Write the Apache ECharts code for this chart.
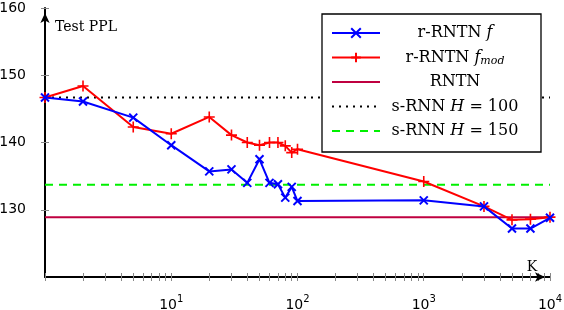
<!DOCTYPE html>
<html><head><meta charset="utf-8">
<script src="https://cdn.jsdelivr.net/npm/echarts@6/dist/echarts.min.js"></script>
<style>html,body{margin:0;padding:0;background:#fff}#c{width:564px;height:310px}</style>
</head><body><div id="c"></div>
<script>
// ---- data ----
const K = [1, 2, 5, 10, 20, 30, 40, 50, 60, 70, 80, 90, 100, 1000, 3000, 5000, 7000, 10000];
const rrntnF    = [146.7, 146.1, 143.7, 139.6, 135.7, 136.0, 134.0, 137.5, 134.0, 133.8, 131.8, 133.4, 131.3, 131.4, 130.5, 127.2, 127.2, 128.8];
const rrntnFmod = [146.7, 148.4, 142.3, 141.3, 143.8, 141.1, 140.0, 139.6, 140.0, 140.0, 139.5, 138.5, 139.0, 134.2, 130.5, 128.5, 128.6, 128.9];
const lineSpan = [1, 10000];
const rntnLevel = 128.9;
const srnn100Level = 146.7;
const srnn150Level = 133.7;
const seriesNames = ['r-RNTN f', 'r-RNTN fmod', 'RNTN', 's-RNN H = 100', 's-RNN H = 150'];
const legendLabels = {
  'r-RNTN f': '{t|r-RNTN }{i|f}',
  'r-RNTN fmod': '{t|r-RNTN }{i|f}{sub|mod}',
  'RNTN': '{t|RNTN}',
  's-RNN H = 100': '{t|s-RNN }{i|H}{t| = 100}',
  's-RNN H = 150': '{t|s-RNN }{i|H}{t| = 150}'
};
const yTicks = [130, 140, 150, 160];
const xTickValues = [1,2,3,4,5,6,7,8,9,10,20,30,40,50,60,70,80,90,100,200,300,400,500,600,700,800,900,1000,2000,3000,4000,5000,6000,7000,8000,9000,10000];
const xLabelValues = [10, 100, 1000, 10000];
const xLabelExps = ['1', '2', '3', '4'];

// ---- chart ----
const chart = echarts.init(document.getElementById('c'), null, {renderer: 'canvas'});
const serif = 'DejaVu Serif';
const sans = 'DejaVu Sans';
const pair = (xs, ys) => xs.map((x, i) => [x, ys[i]]);
const flat = (lvl) => lineSpan.map(x => [x, lvl]);
const arrowLine = {lineStyle: {color: '#000', width: 2}, symbol: ['none', 'arrow'], symbolSize: [7, 10], symbolOffset: [0, -5]};
const plainIcon = new Set(['RNTN', 's-RNN H = 100', 's-RNN H = 150']);
const hiddenSym = {color: 'rgba(0,0,0,0)', borderColor: 'rgba(0,0,0,0)', borderWidth: 0, opacity: 0};

chart.setOption({
  animation: false,
  backgroundColor: '#fff',
  grid: {left: 45, right: 14, top: 8, bottom: 33, containLabel: false, outerBoundsMode: 'none'},
  xAxis: [{
    type: 'log', logBase: 10, min: 1, max: 10000,
    axisLine: arrowLine,
    axisTick: {customValues: xTickValues, length: 4, lineStyle: {color: '#888', width: 1}},
    minorTick: {show: false},
    splitLine: {show: false},
    axisLabel: {
      customValues: xLabelValues, margin: 17,
      formatter: (v) => { const i = xLabelValues.indexOf(v); return '{b|10}{s|' + (i >= 0 ? xLabelExps[i] : '') + '}'; },
      rich: {
        b: {fontFamily: sans, fontSize: 14, lineHeight: 18, verticalAlign: 'bottom', color: '#000'},
        s: {fontFamily: sans, fontSize: 10, lineHeight: 4, verticalAlign: 'top', color: '#000'}
      }
    },
    name: 'K', nameLocation: 'end', nameGap: -18,
    nameTextStyle: {fontFamily: serif, fontSize: 14, color: '#000', align: 'center', verticalAlign: 'bottom', padding: [0, 0, 3, 0]}
  }, {
    type: 'log', logBase: 10, min: 1, max: 10000, position: 'bottom',
    axisLine: {show: false},
    axisTick: {customValues: xTickValues, inside: true, length: 4, lineStyle: {color: '#888', width: 1}},
    axisLabel: {show: false}, splitLine: {show: false}
  }],
  yAxis: [{
    type: 'value', min: 120, max: 160, interval: 10,
    axisLine: Object.assign({show: true}, arrowLine),
    axisTick: {show: true, customValues: yTicks, length: 4, lineStyle: {color: '#888', width: 1}},
    splitLine: {show: false},
    axisLabel: {customValues: yTicks, margin: 19, fontFamily: sans, fontSize: 14, color: '#000'},
    name: 'Test PPL', nameLocation: 'end', nameGap: -19,
    nameTextStyle: {fontFamily: serif, fontSize: 14, color: '#000', align: 'left', verticalAlign: 'middle', padding: [0, 0, 0, 10]}
  }, {
    type: 'value', min: 120, max: 160, interval: 10, position: 'left',
    axisLine: {show: false},
    axisTick: {show: true, inside: true, customValues: yTicks, length: 4, lineStyle: {color: '#888', width: 1}},
    axisLabel: {show: false}, splitLine: {show: false}
  }],
  legend: {
    data: seriesNames.map(n => plainIcon.has(n) ? {name: n, itemStyle: hiddenSym} : {name: n}),
    orient: 'vertical', left: 322, top: 14,
    padding: [10, 16, 12, 9],
    itemWidth: 48, itemHeight: 12, itemGap: 6.5,
    borderColor: '#000', borderWidth: 1.3, backgroundColor: '#fff',
    formatter: (name) => legendLabels[name],
    textStyle: {
      width: 140, fontFamily: serif, fontSize: 16, lineHeight: 18, color: '#000',
      rich: {
        t: {fontFamily: serif, fontSize: 16, lineHeight: 18, align: 'center', color: '#000'},
        i: {fontFamily: serif, fontStyle: 'italic', fontSize: 16, lineHeight: 18, align: 'center', color: '#000'},
        sub: {fontFamily: serif, fontStyle: 'italic', fontSize: 11, lineHeight: 8, verticalAlign: 'bottom', align: 'center', color: '#000'}
      }
    }
  },
  series: [
    {name: 'RNTN', type: 'line', data: flat(rntnLevel), showSymbol: false, z: 1,
     lineStyle: {color: '#bf0040', width: 2}, itemStyle: {color: '#bf0040'}},
    {name: 's-RNN H = 100', type: 'line', data: flat(srnn100Level), showSymbol: false, z: 1,
     lineStyle: {color: '#000', width: 2, type: [2, 5]}, itemStyle: {color: '#000'}},
    {name: 's-RNN H = 150', type: 'line', data: flat(srnn150Level), showSymbol: false, z: 1,
     lineStyle: {color: '#00f000', width: 2, type: [8, 6]}, itemStyle: {color: '#00f000'}},
    {name: 'r-RNTN fmod', type: 'line', data: pair(K, rrntnFmod), z: 3,
     symbol: 'path://M5,0L5,10M0,5L10,5', symbolSize: 11, showAllSymbol: true,
     lineStyle: {color: '#ff0000', width: 2},
     itemStyle: {color: '#ff0000', borderColor: '#ff0000', borderWidth: 1.6}},
    {name: 'r-RNTN f', type: 'line', data: pair(K, rrntnF), z: 4,
     symbol: 'path://M0,0L10,10M0,10L10,0', symbolSize: 8, showAllSymbol: true,
     lineStyle: {color: '#0000ff', width: 2},
     itemStyle: {color: '#0000ff', borderColor: '#0000ff', borderWidth: 2}}
  ]
});
</script></body></html>
